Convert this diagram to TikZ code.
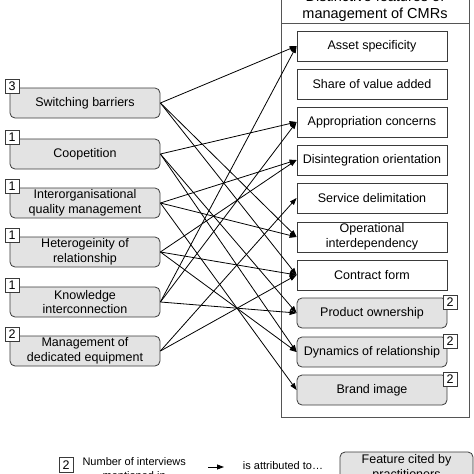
\documentclass[tikz,border=0pt]{standalone}
\usepackage{fontspec}
\setmainfont{Liberation Sans}
\usetikzlibrary{arrows.meta, positioning}
\definecolor{boxline}{HTML}{3A3A3A}
\definecolor{boxfill}{HTML}{E3E3E3}
\definecolor{frameline}{HTML}{555555}
\newcommand{\labelfont}{\fontsize{12.5}{14.5}\selectfont}
\newcommand{\titlefont}{\fontsize{14.5}{17}\selectfont}
\newcommand{\legendfont}{\fontsize{11}{14}\selectfont}
\tikzset{%
	factor/.style={
		draw=boxline,
		fill=boxfill,
		rounded corners=5pt,
		line width=0.8pt,
		minimum width=150pt,
		minimum height=30pt,
		inner sep=1pt,
		align=center,
		font=\labelfont
	},
	feature/.style={
		draw=boxline,
		line width=0.8pt,
		minimum width=150pt,
		minimum height=30pt,
		inner sep=1pt,
		align=center,
		font=\labelfont
	},
	cited/.style={
		feature,
		fill=boxfill,
		rounded corners=5pt
	},
	count/.style={
		draw=boxline,
		fill=white,
		line width=0.8pt,
		minimum width=14pt,
		minimum height=14pt,
		inner sep=0pt,
		font=\labelfont
	},
	link/.style={
		-{Triangle[length=7pt, width=5pt]},
		line width=0.8pt
	},
}

\begin{document}
\begin{tikzpicture}[x=1pt, y=-1pt]
			\useasboundingbox (0,0) rectangle (474,474);
			\clip (0,0) rectangle (474,474);
			
			% Frame round the distinctive features
			\draw[frameline, line width=0.8pt] (281,-30) rectangle (469,417);
			\draw[frameline, line width=0.8pt] (281,23) -- (469,23);
			\node[font=\titlefont, align=center] (title) at (375,6) {Distinctive features of\\management of CMRs};
			
			% Factors (left column)
			\node[factor] (f1) at (85,103) {Switching barriers};
			\node[factor] (f2) at (85,154) {Coopetition};
			\node[factor] (f3) at (85,203) {Interorganisational\\quality management};
			\node[factor] (f4) at (85,252) {Heterogeinity of\\relationship};
			\node[factor] (f5) at (85,302) {Knowledge\\interconnection};
			\node[factor] (f6) at (85,351) {Management of\\dedicated equipment};
			
			% Number of interviews per factor
			\foreach \f/\n in {f1/3, f2/1, f3/1, f4/1, f5/1, f6/2}
				\node[count, anchor=north west] at ([xshift=-5pt, yshift=9pt]\f.north west) {\n};
			
			% Features (right column)
			\node[feature] (t1) at (372,46) {Asset specificity};
			\node[feature] (t2) at (372,84) {Share of value added};
			\node[feature] (t3) at (372,122) {Appropriation concerns};
			\node[feature] (t4) at (372,160) {Disintegration orientation};
			\node[feature] (t5) at (372,198) {Service delimitation};
			\node[feature] (t6) at (372,237) {Operational\\interdependency};
			\node[feature] (t7) at (372,275) {Contract form};
			\node[cited] (t8) at (372,313) {Product ownership};
			\node[cited] (t9) at (372,352) {Dynamics of relationship};
			\node[cited] (t10) at (372,390) {Brand image};
			
			\foreach \t in {t8, t9, t10}
				\node[count, anchor=north east] at ([xshift=10pt, yshift=3pt]\t.north east) {2};
			
			% Attributions
			\foreach \f/\t in {f1/t1, f1/t6, f1/t7, f2/t3, f2/t8, f2/t9, f3/t4, f3/t6, f3/t10, f4/t4, f4/t7, f4/t9, f5/t1, f5/t3, f5/t8, f6/t5, f6/t7}
				\draw[link] (\f.east) -- (\t.west);
			
			% Legend
			\node[count, minimum height=15pt] (lcount) at (66,465) {2};
			\node[font=\legendfont, align=center, anchor=west] (ltext) at (79,468.5) {Number of interviews\\mentioned in};
			\coordinate (la) at (208,467);
			\coordinate (lb) at (224,467);
			\draw[link] (la) -- (lb);
			\node[font=\legendfont] (lattr) at (283,466) {is attributed to…};
			\node[cited, minimum width=133pt, minimum height=32pt] (lfeat) at (406.5,468) {Feature cited by\\practitioners};
		\end{tikzpicture}
\end{document}
